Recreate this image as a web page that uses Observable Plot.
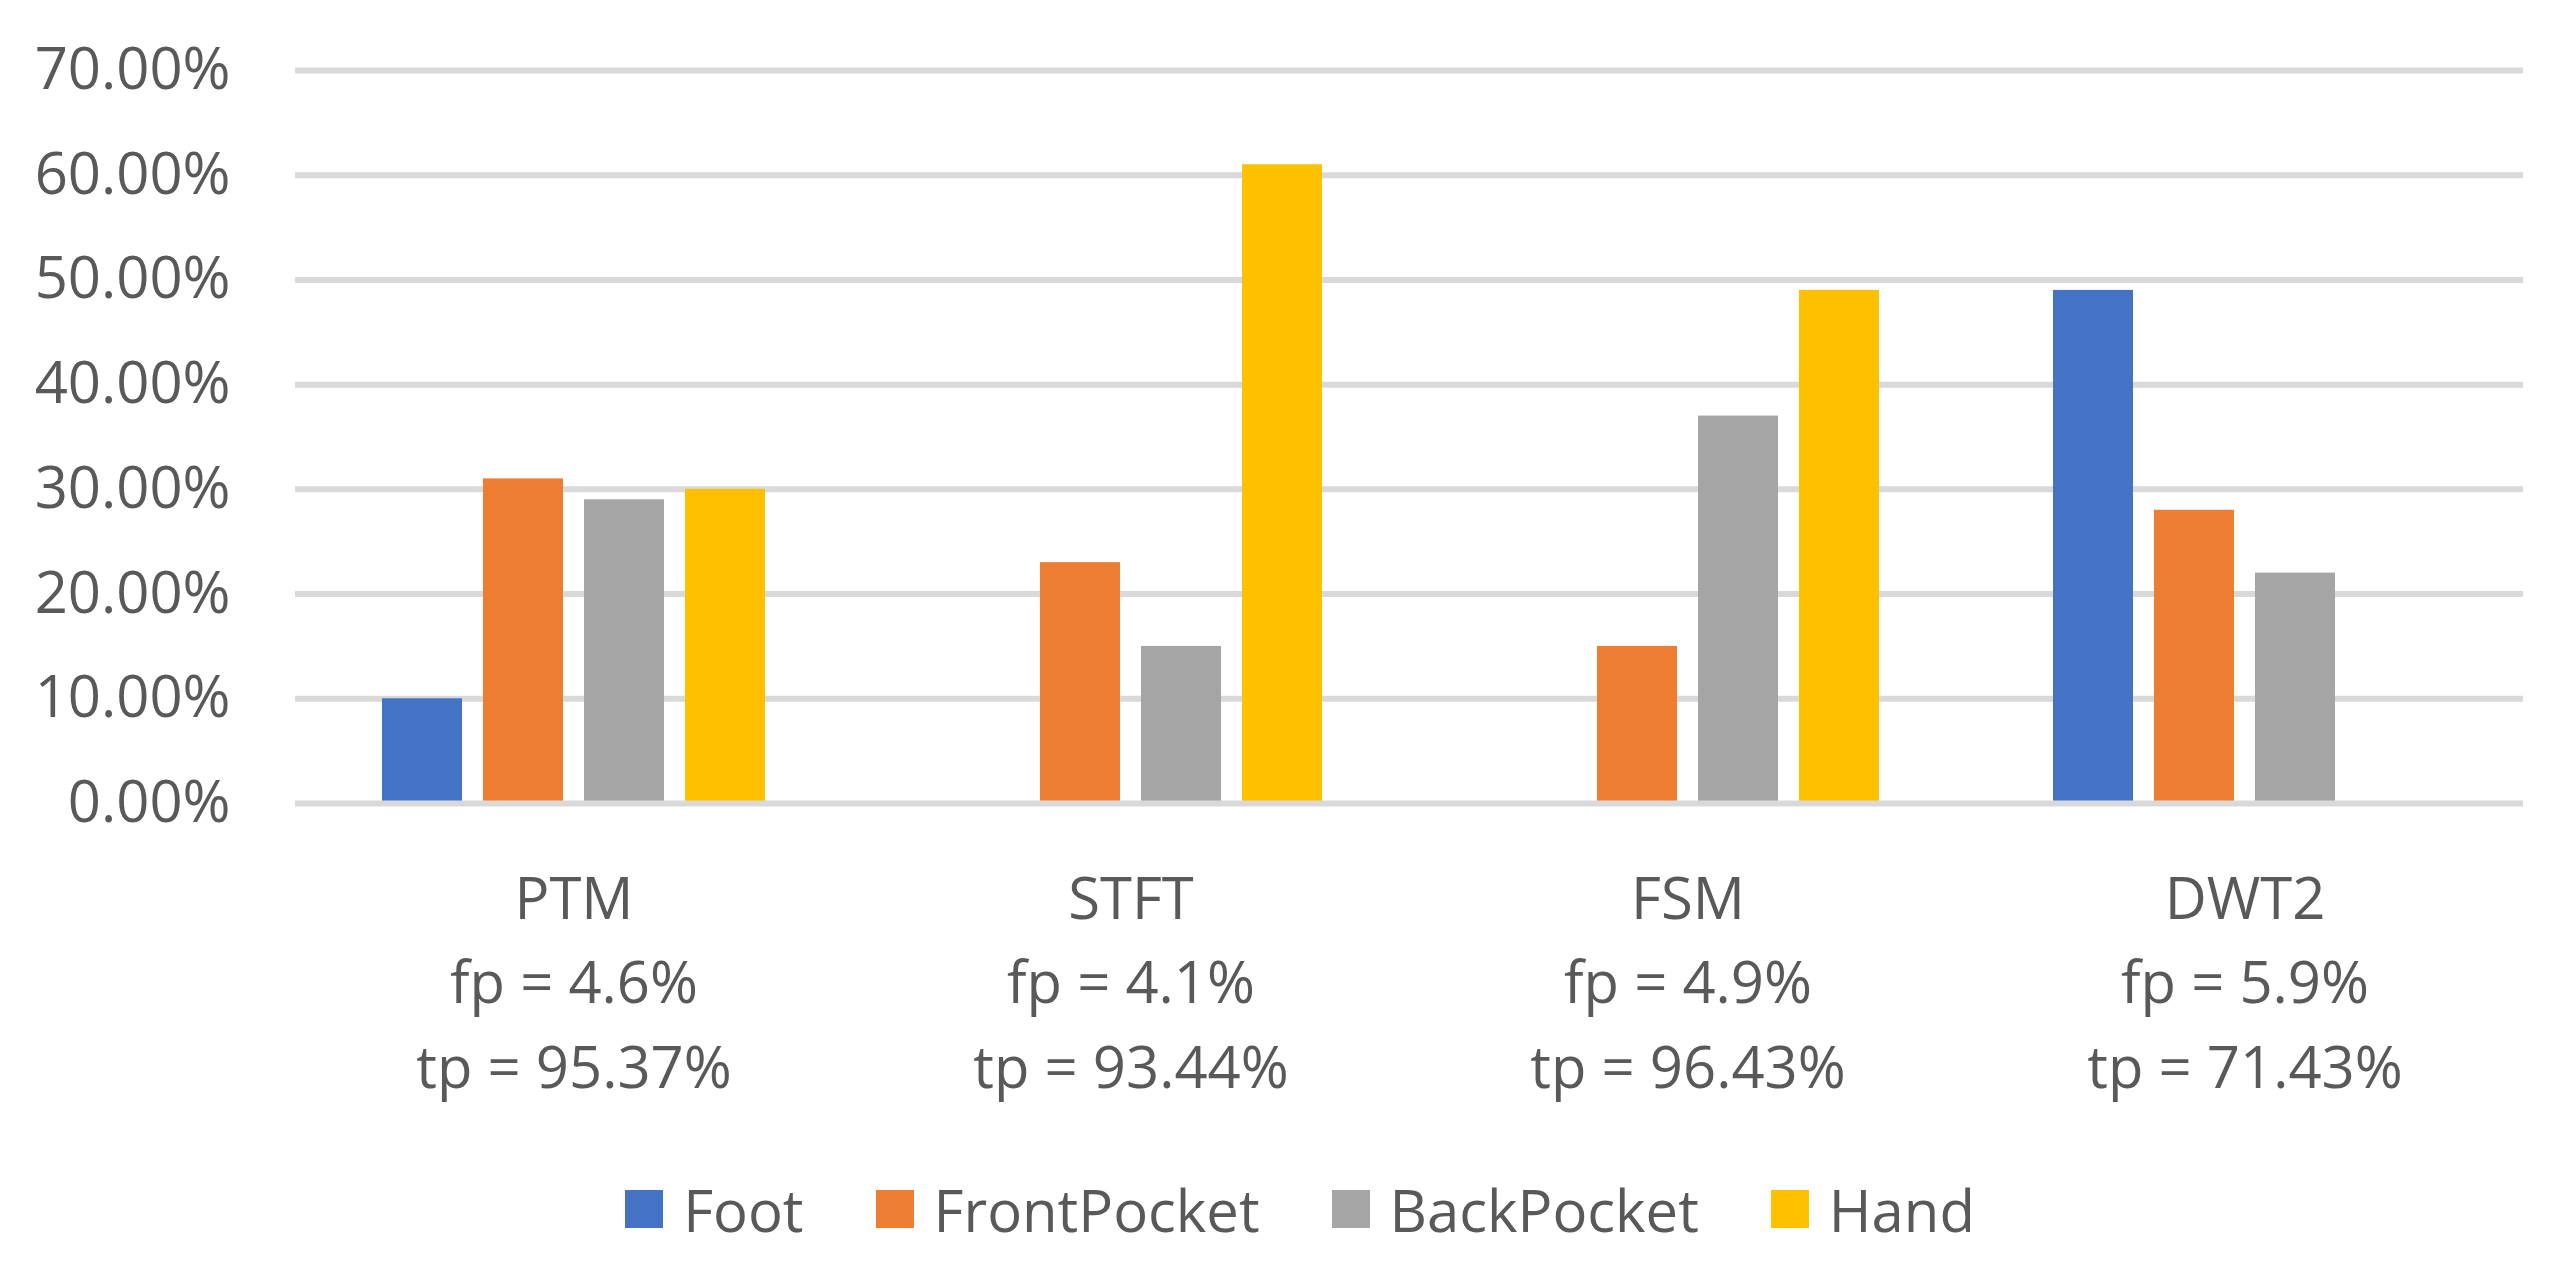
<!DOCTYPE html>
<html>
<head>
<meta charset="utf-8">
<script src="https://cdn.jsdelivr.net/npm/d3@7"></script>
<script src="https://cdn.jsdelivr.net/npm/@observablehq/plot@0.6"></script>
<style>
  html, body { margin: 0; padding: 0; background: #ffffff; }
  #chart { width: 2555px; }
  .legend { display: flex; justify-content: center; align-items: center; height: 118px; padding-left: 45px;
            font-family: "Open Sans", sans-serif; font-size: 58px; color: #595959; }
  .item { display: flex; align-items: center; margin: 0 36px; }
  .sw { width: 38px; height: 38px; margin-right: 20px; }
</style>
</head>
<body>
<div id="chart"></div>
<script>
const methods = ["PTM", "STFT", "FSM", "DWT2"];
const fpRates = ["4.6%", "4.1%", "4.9%", "5.9%"];
const tpRates = ["95.37%", "93.44%", "96.43%", "71.43%"];
const series = ["Foot", "FrontPocket", "BackPocket", "Hand"];
const foot = [10, 0, 0, 49];
const frontPocket = [31, 23, 15, 28];
const backPocket = [29, 15, 37, 22];
const hand = [30, 61, 49, 0];
const colors = ["#4472C4", "#ED7D31", "#A5A5A5", "#FFC000"];
const yTicks = [0, 10, 20, 30, 40, 50, 60, 70];

const valuesBySeries = [foot, frontPocket, backPocket, hand];
const data = [];
methods.forEach((m, i) => {
  series.forEach((s, j) => {
    data.push({method: m, series: s, value: valuesBySeries[j][i]});
  });
});

const H = 1150;
const chart = Plot.plot({
  width: 2555,
  height: H,
  marginTop: 70,
  marginBottom: H - 803,
  marginLeft: 295,
  marginRight: 32,
  style: {fontFamily: "Open Sans, sans-serif", color: "#595959", background: "#ffffff", overflow: "visible"},
  fx: {domain: methods, paddingInner: 0, paddingOuter: 0, label: null, axis: null},
  x: {domain: series, paddingInner: 0.21, paddingOuter: 0.85, axis: null},
  y: {domain: [0, 70], axis: null, label: null},
  color: {domain: series, range: colors},
  marks: [
    Plot.ruleY(yTicks.filter(d => d > 0), {stroke: "#D9D9D9", strokeWidth: 6}),
    Plot.barY(data.filter(d => d.value > 0), {fx: "method", x: "series", y: "value", fill: "series"}),
    Plot.ruleY([0], {stroke: "#D9D9D9", strokeWidth: 6}),
    Plot.axisY({ticks: yTicks, tickFormat: d => d.toFixed(2) + "%", tickSize: 0, tickPadding: 65, fontSize: 58, label: null}),
    Plot.axisFx({
      anchor: "bottom",
      tickFormat: d => { const i = methods.indexOf(d); return `${d}\nfp = ${fpRates[i]}\ntp = ${tpRates[i]}`; },
      tickSize: 0, tickPadding: 55, fontSize: 58, lineHeight: 1.46, label: null
    })
  ]
});
document.getElementById("chart").appendChild(chart);

const legend = document.createElement("div");
legend.className = "legend";
series.forEach((s, j) => {
  const item = document.createElement("div");
  item.className = "item";
  const sw = document.createElement("div");
  sw.className = "sw";
  sw.style.background = colors[j];
  const t = document.createElement("span");
  t.textContent = s;
  item.appendChild(sw);
  item.appendChild(t);
  legend.appendChild(item);
});
document.body.appendChild(legend);
</script>
</body>
</html>
